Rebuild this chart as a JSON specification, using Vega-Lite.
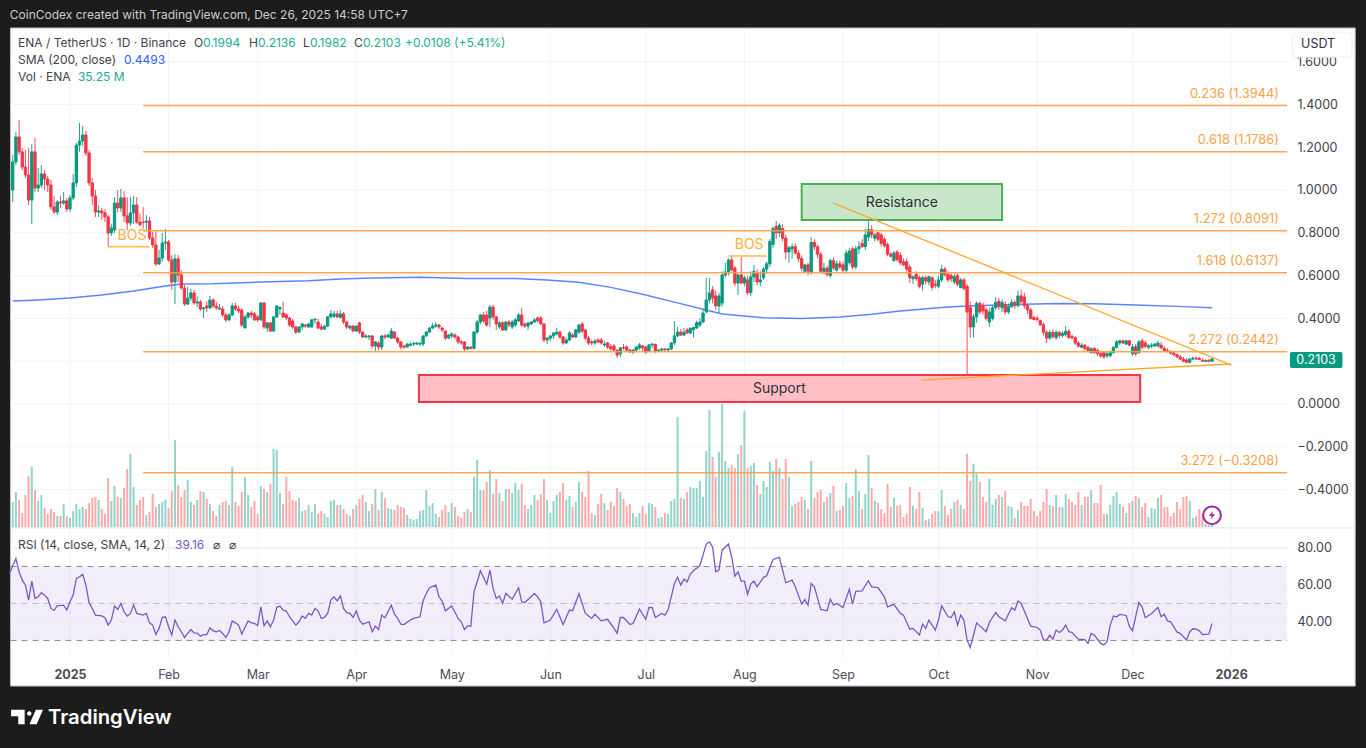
{"$schema":"https://vega.github.io/schema/vega-lite/v6.json","width":1366,"height":748,"padding":0,"autosize":{"type":"fit","contains":"padding"},"background":"#1c1c1c","config":{"font":"Inter","view":{"stroke":null},"axis":{"labelFont":"Inter"}},
"datasets":{"cd":[
{"d":"2024-12-14","o":1.0,"h":1.164,"l":0.944,"c":1.131,"v":300},{"d":"2024-12-15","o":1.131,"h":1.271,"l":1.117,"c":1.248,"v":420},{"d":"2024-12-16","o":1.248,"h":1.327,"l":1.164,"c":1.178,"v":324},{"d":"2024-12-17","o":1.178,"h":1.196,"l":1.093,"c":1.107,"v":168},{"d":"2024-12-18","o":1.107,"h":1.187,"l":1.056,"c":1.07,"v":384},{"d":"2024-12-19","o":1.07,"h":1.196,"l":0.93,"c":0.953,"v":612},{"d":"2024-12-20","o":0.953,"h":1.215,"l":0.841,"c":1.178,"v":720},{"d":"2024-12-21","o":1.178,"h":1.243,"l":0.991,"c":1.009,"v":444},{"d":"2024-12-22","o":1.009,"h":1.103,"l":0.991,"c":1.023,"v":312},{"d":"2024-12-23","o":1.023,"h":1.117,"l":1.009,"c":1.075,"v":384},{"d":"2024-12-24","o":1.075,"h":1.093,"l":1.0,"c":1.051,"v":228},{"d":"2024-12-25","o":1.051,"h":1.065,"l":0.991,"c":1.023,"v":156},{"d":"2024-12-26","o":1.023,"h":1.047,"l":0.907,"c":0.921,"v":216},{"d":"2024-12-27","o":0.921,"h":0.972,"l":0.888,"c":0.897,"v":180},{"d":"2024-12-28","o":0.897,"h":0.953,"l":0.883,"c":0.944,"v":132},{"d":"2024-12-29","o":0.944,"h":0.972,"l":0.916,"c":0.939,"v":132},{"d":"2024-12-30","o":0.939,"h":0.991,"l":0.93,"c":0.949,"v":276},{"d":"2024-12-31","o":0.949,"h":0.963,"l":0.897,"c":0.911,"v":132},
{"d":"2025-01-01","o":0.911,"h":0.977,"l":0.897,"c":0.963,"v":108},{"d":"2025-01-02","o":0.963,"h":1.075,"l":0.953,"c":1.033,"v":192},{"d":"2025-01-03","o":1.033,"h":1.22,"l":1.014,"c":1.21,"v":276},{"d":"2025-01-04","o":1.21,"h":1.313,"l":1.178,"c":1.229,"v":216},{"d":"2025-01-05","o":1.229,"h":1.299,"l":1.206,"c":1.257,"v":240},{"d":"2025-01-06","o":1.257,"h":1.276,"l":1.159,"c":1.173,"v":216},{"d":"2025-01-07","o":1.173,"h":1.187,"l":1.019,"c":1.033,"v":288},{"d":"2025-01-08","o":1.033,"h":1.056,"l":0.93,"c":0.972,"v":348},{"d":"2025-01-09","o":0.972,"h":1.0,"l":0.874,"c":0.897,"v":360},{"d":"2025-01-10","o":0.897,"h":0.93,"l":0.874,"c":0.902,"v":324},{"d":"2025-01-11","o":0.902,"h":0.916,"l":0.86,"c":0.893,"v":216},{"d":"2025-01-12","o":0.893,"h":0.911,"l":0.85,"c":0.874,"v":156},{"d":"2025-01-13","o":0.874,"h":0.883,"l":0.735,"c":0.799,"v":588},{"d":"2025-01-14","o":0.799,"h":0.841,"l":0.785,"c":0.822,"v":312},{"d":"2025-01-15","o":0.813,"h":0.967,"l":0.799,"c":0.939,"v":492},{"d":"2025-01-16","o":0.939,"h":1.0,"l":0.897,"c":0.916,"v":360},{"d":"2025-01-17","o":0.916,"h":1.005,"l":0.897,"c":0.963,"v":348},{"d":"2025-01-18","o":0.963,"h":0.995,"l":0.85,"c":0.879,"v":468},{"d":"2025-01-19","o":0.879,"h":0.967,"l":0.813,"c":0.846,"v":696},{"d":"2025-01-20","o":0.846,"h":0.967,"l":0.832,"c":0.893,"v":876},{"d":"2025-01-21","o":0.893,"h":0.972,"l":0.841,"c":0.93,"v":480},{"d":"2025-01-22","o":0.93,"h":0.967,"l":0.841,"c":0.85,"v":264},{"d":"2025-01-23","o":0.85,"h":0.89,"l":0.83,"c":0.838,"v":324},{"d":"2025-01-24","o":0.85,"h":0.92,"l":0.82,"c":0.848,"v":360},{"d":"2025-01-25","o":0.85,"h":0.883,"l":0.813,"c":0.855,"v":144},{"d":"2025-01-26","o":0.855,"h":0.874,"l":0.766,"c":0.776,"v":180},{"d":"2025-01-27","o":0.776,"h":0.804,"l":0.729,"c":0.743,"v":396},{"d":"2025-01-28","o":0.743,"h":0.813,"l":0.645,"c":0.654,"v":240},{"d":"2025-01-29","o":0.654,"h":0.72,"l":0.65,"c":0.682,"v":276},{"d":"2025-01-30","o":0.682,"h":0.799,"l":0.664,"c":0.752,"v":300},{"d":"2025-01-31","o":0.752,"h":0.818,"l":0.72,"c":0.757,"v":324},
{"d":"2025-02-01","o":0.757,"h":0.766,"l":0.664,"c":0.673,"v":228},{"d":"2025-02-02","o":0.673,"h":0.696,"l":0.533,"c":0.57,"v":432},{"d":"2025-02-03","o":0.57,"h":0.701,"l":0.467,"c":0.678,"v":1044},{"d":"2025-02-04","o":0.678,"h":0.696,"l":0.57,"c":0.603,"v":504},{"d":"2025-02-05","o":0.603,"h":0.626,"l":0.533,"c":0.542,"v":360},{"d":"2025-02-06","o":0.542,"h":0.556,"l":0.458,"c":0.467,"v":444},{"d":"2025-02-07","o":0.467,"h":0.547,"l":0.463,"c":0.495,"v":564},{"d":"2025-02-08","o":0.495,"h":0.537,"l":0.481,"c":0.519,"v":300},{"d":"2025-02-09","o":0.519,"h":0.533,"l":0.463,"c":0.472,"v":264},{"d":"2025-02-10","o":0.472,"h":0.502,"l":0.453,"c":0.477,"v":324},{"d":"2025-02-11","o":0.477,"h":0.486,"l":0.435,"c":0.444,"v":432},{"d":"2025-02-12","o":0.444,"h":0.453,"l":0.402,"c":0.449,"v":420},{"d":"2025-02-13","o":0.458,"h":0.48,"l":0.43,"c":0.449,"v":336},{"d":"2025-02-14","o":0.449,"h":0.505,"l":0.444,"c":0.486,"v":276},{"d":"2025-02-15","o":0.486,"h":0.495,"l":0.449,"c":0.458,"v":192},{"d":"2025-02-16","o":0.458,"h":0.477,"l":0.439,"c":0.449,"v":132},{"d":"2025-02-17","o":0.444,"h":0.467,"l":0.439,"c":0.449,"v":264},{"d":"2025-02-18","o":0.444,"h":0.458,"l":0.407,"c":0.416,"v":300},{"d":"2025-02-19","o":0.416,"h":0.425,"l":0.383,"c":0.393,"v":312},{"d":"2025-02-20","o":0.393,"h":0.425,"l":0.388,"c":0.416,"v":264},{"d":"2025-02-21","o":0.416,"h":0.472,"l":0.411,"c":0.458,"v":720},{"d":"2025-02-22","o":0.458,"h":0.472,"l":0.435,"c":0.444,"v":300},{"d":"2025-02-23","o":0.444,"h":0.458,"l":0.425,"c":0.435,"v":252},{"d":"2025-02-24","o":0.439,"h":0.449,"l":0.36,"c":0.369,"v":420},{"d":"2025-02-25","o":0.355,"h":0.416,"l":0.355,"c":0.407,"v":600},{"d":"2025-02-26","o":0.407,"h":0.43,"l":0.397,"c":0.425,"v":384},{"d":"2025-02-27","o":0.425,"h":0.435,"l":0.402,"c":0.416,"v":240},{"d":"2025-02-28","o":0.421,"h":0.43,"l":0.388,"c":0.393,"v":312},
{"d":"2025-03-01","o":0.407,"h":0.416,"l":0.383,"c":0.393,"v":156},{"d":"2025-03-02","o":0.393,"h":0.477,"l":0.388,"c":0.472,"v":492},{"d":"2025-03-03","o":0.472,"h":0.477,"l":0.35,"c":0.36,"v":456},{"d":"2025-03-04","o":0.355,"h":0.383,"l":0.336,"c":0.379,"v":420},{"d":"2025-03-05","o":0.379,"h":0.383,"l":0.336,"c":0.341,"v":516},{"d":"2025-03-06","o":0.341,"h":0.411,"l":0.336,"c":0.407,"v":936},{"d":"2025-03-07","o":0.407,"h":0.463,"l":0.402,"c":0.458,"v":924},{"d":"2025-03-08","o":0.444,"h":0.458,"l":0.416,"c":0.45,"v":408},{"d":"2025-03-09","o":0.425,"h":0.477,"l":0.402,"c":0.407,"v":276},{"d":"2025-03-10","o":0.416,"h":0.425,"l":0.393,"c":0.402,"v":600},{"d":"2025-03-11","o":0.402,"h":0.407,"l":0.36,"c":0.369,"v":432},{"d":"2025-03-12","o":0.388,"h":0.397,"l":0.35,"c":0.36,"v":324},{"d":"2025-03-13","o":0.36,"h":0.364,"l":0.327,"c":0.336,"v":312},{"d":"2025-03-14","o":0.336,"h":0.36,"l":0.332,"c":0.36,"v":348},{"d":"2025-03-15","o":0.36,"h":0.379,"l":0.346,"c":0.374,"v":192},{"d":"2025-03-16","o":0.369,"h":0.374,"l":0.355,"c":0.364,"v":204},{"d":"2025-03-17","o":0.36,"h":0.379,"l":0.355,"c":0.374,"v":264},{"d":"2025-03-18","o":0.36,"h":0.397,"l":0.355,"c":0.393,"v":180},{"d":"2025-03-19","o":0.393,"h":0.402,"l":0.374,"c":0.396,"v":276},{"d":"2025-03-20","o":0.383,"h":0.397,"l":0.35,"c":0.355,"v":156},{"d":"2025-03-21","o":0.36,"h":0.374,"l":0.346,"c":0.35,"v":192},{"d":"2025-03-22","o":0.35,"h":0.369,"l":0.346,"c":0.364,"v":156},{"d":"2025-03-23","o":0.364,"h":0.411,"l":0.36,"c":0.407,"v":120},{"d":"2025-03-24","o":0.407,"h":0.439,"l":0.402,"c":0.421,"v":312},{"d":"2025-03-25","o":0.41,"h":0.435,"l":0.402,"c":0.421,"v":324},{"d":"2025-03-26","o":0.421,"h":0.435,"l":0.402,"c":0.407,"v":264},{"d":"2025-03-27","o":0.405,"h":0.439,"l":0.4,"c":0.421,"v":264},{"d":"2025-03-28","o":0.421,"h":0.43,"l":0.374,"c":0.383,"v":216},{"d":"2025-03-29","o":0.383,"h":0.388,"l":0.35,"c":0.36,"v":156},{"d":"2025-03-30","o":0.355,"h":0.369,"l":0.346,"c":0.364,"v":132},{"d":"2025-03-31","o":0.364,"h":0.369,"l":0.336,"c":0.341,"v":216},
{"d":"2025-04-01","o":0.341,"h":0.369,"l":0.336,"c":0.364,"v":264},{"d":"2025-04-02","o":0.379,"h":0.383,"l":0.327,"c":0.336,"v":336},{"d":"2025-04-03","o":0.336,"h":0.341,"l":0.308,"c":0.313,"v":384},{"d":"2025-04-04","o":0.313,"h":0.327,"l":0.308,"c":0.318,"v":300},{"d":"2025-04-05","o":0.313,"h":0.322,"l":0.299,"c":0.318,"v":192},{"d":"2025-04-06","o":0.318,"h":0.322,"l":0.262,"c":0.271,"v":276},{"d":"2025-04-07","o":0.271,"h":0.294,"l":0.243,"c":0.29,"v":456},{"d":"2025-04-08","o":0.285,"h":0.294,"l":0.252,"c":0.266,"v":204},{"d":"2025-04-09","o":0.266,"h":0.322,"l":0.252,"c":0.318,"v":420},{"d":"2025-04-10","o":0.318,"h":0.327,"l":0.304,"c":0.313,"v":348},{"d":"2025-04-11","o":0.313,"h":0.327,"l":0.308,"c":0.322,"v":228},{"d":"2025-04-12","o":0.308,"h":0.355,"l":0.304,"c":0.341,"v":216},{"d":"2025-04-13","o":0.336,"h":0.341,"l":0.304,"c":0.308,"v":204},{"d":"2025-04-14","o":0.308,"h":0.313,"l":0.28,"c":0.29,"v":264},{"d":"2025-04-15","o":0.29,"h":0.294,"l":0.257,"c":0.266,"v":240},{"d":"2025-04-16","o":0.271,"h":0.276,"l":0.257,"c":0.266,"v":228},{"d":"2025-04-17","o":0.266,"h":0.285,"l":0.266,"c":0.28,"v":144},{"d":"2025-04-18","o":0.274,"h":0.288,"l":0.27,"c":0.28,"v":96},{"d":"2025-04-19","o":0.28,"h":0.29,"l":0.271,"c":0.283,"v":84},{"d":"2025-04-20","o":0.28,"h":0.29,"l":0.276,"c":0.285,"v":96},{"d":"2025-04-21","o":0.28,"h":0.29,"l":0.271,"c":0.283,"v":192},{"d":"2025-04-22","o":0.28,"h":0.322,"l":0.271,"c":0.318,"v":204},{"d":"2025-04-23","o":0.318,"h":0.341,"l":0.313,"c":0.336,"v":444},{"d":"2025-04-24","o":0.336,"h":0.36,"l":0.332,"c":0.355,"v":252},{"d":"2025-04-25","o":0.355,"h":0.379,"l":0.35,"c":0.364,"v":288},{"d":"2025-04-26","o":0.364,"h":0.383,"l":0.355,"c":0.369,"v":156},{"d":"2025-04-27","o":0.369,"h":0.374,"l":0.35,"c":0.36,"v":120},{"d":"2025-04-28","o":0.355,"h":0.36,"l":0.336,"c":0.346,"v":204},{"d":"2025-04-29","o":0.341,"h":0.346,"l":0.299,"c":0.308,"v":264},{"d":"2025-04-30","o":0.308,"h":0.327,"l":0.304,"c":0.322,"v":180},
{"d":"2025-05-01","o":0.318,"h":0.336,"l":0.308,"c":0.327,"v":288},{"d":"2025-05-02","o":0.322,"h":0.332,"l":0.304,"c":0.313,"v":240},{"d":"2025-05-03","o":0.313,"h":0.318,"l":0.28,"c":0.29,"v":132},{"d":"2025-05-04","o":0.29,"h":0.299,"l":0.276,"c":0.285,"v":108},{"d":"2025-05-05","o":0.29,"h":0.294,"l":0.248,"c":0.257,"v":180},{"d":"2025-05-06","o":0.257,"h":0.271,"l":0.252,"c":0.266,"v":216},{"d":"2025-05-07","o":0.266,"h":0.27,"l":0.255,"c":0.26,"v":180},{"d":"2025-05-08","o":0.26,"h":0.341,"l":0.255,"c":0.336,"v":600},{"d":"2025-05-09","o":0.336,"h":0.393,"l":0.327,"c":0.383,"v":804},{"d":"2025-05-10","o":0.383,"h":0.421,"l":0.374,"c":0.416,"v":444},{"d":"2025-05-11","o":0.416,"h":0.43,"l":0.379,"c":0.388,"v":444},{"d":"2025-05-12","o":0.416,"h":0.435,"l":0.36,"c":0.369,"v":540},{"d":"2025-05-13","o":0.402,"h":0.463,"l":0.36,"c":0.453,"v":684},{"d":"2025-05-14","o":0.453,"h":0.463,"l":0.393,"c":0.407,"v":396},{"d":"2025-05-15","o":0.407,"h":0.411,"l":0.346,"c":0.374,"v":576},{"d":"2025-05-16","o":0.36,"h":0.388,"l":0.35,"c":0.379,"v":408},{"d":"2025-05-17","o":0.379,"h":0.388,"l":0.341,"c":0.346,"v":312},{"d":"2025-05-18","o":0.346,"h":0.388,"l":0.341,"c":0.383,"v":456},{"d":"2025-05-19","o":0.383,"h":0.393,"l":0.36,"c":0.37,"v":456},{"d":"2025-05-20","o":0.36,"h":0.393,"l":0.35,"c":0.383,"v":408},{"d":"2025-05-21","o":0.369,"h":0.402,"l":0.36,"c":0.393,"v":528},{"d":"2025-05-22","o":0.388,"h":0.425,"l":0.383,"c":0.416,"v":444},{"d":"2025-05-23","o":0.416,"h":0.449,"l":0.36,"c":0.369,"v":516},{"d":"2025-05-24","o":0.374,"h":0.379,"l":0.355,"c":0.364,"v":264},{"d":"2025-05-25","o":0.364,"h":0.383,"l":0.346,"c":0.379,"v":216},{"d":"2025-05-26","o":0.374,"h":0.388,"l":0.369,"c":0.383,"v":264},{"d":"2025-05-27","o":0.383,"h":0.402,"l":0.379,"c":0.393,"v":384},{"d":"2025-05-28","o":0.402,"h":0.41,"l":0.38,"c":0.39,"v":324},{"d":"2025-05-29","o":0.402,"h":0.411,"l":0.369,"c":0.374,"v":396},{"d":"2025-05-30","o":0.374,"h":0.379,"l":0.29,"c":0.299,"v":576},{"d":"2025-05-31","o":0.299,"h":0.313,"l":0.28,"c":0.308,"v":324},
{"d":"2025-06-01","o":0.308,"h":0.322,"l":0.294,"c":0.318,"v":168},{"d":"2025-06-02","o":0.318,"h":0.336,"l":0.304,"c":0.332,"v":312},{"d":"2025-06-03","o":0.327,"h":0.355,"l":0.322,"c":0.336,"v":384},{"d":"2025-06-04","o":0.336,"h":0.341,"l":0.304,"c":0.313,"v":420},{"d":"2025-06-05","o":0.313,"h":0.318,"l":0.276,"c":0.285,"v":528},{"d":"2025-06-06","o":0.285,"h":0.308,"l":0.28,"c":0.299,"v":324},{"d":"2025-06-07","o":0.299,"h":0.341,"l":0.294,"c":0.332,"v":372},{"d":"2025-06-08","o":0.322,"h":0.332,"l":0.308,"c":0.313,"v":240},{"d":"2025-06-09","o":0.313,"h":0.35,"l":0.308,"c":0.346,"v":300},{"d":"2025-06-10","o":0.336,"h":0.374,"l":0.327,"c":0.369,"v":540},{"d":"2025-06-11","o":0.374,"h":0.383,"l":0.332,"c":0.341,"v":420},{"d":"2025-06-12","o":0.346,"h":0.35,"l":0.299,"c":0.308,"v":360},{"d":"2025-06-13","o":0.308,"h":0.318,"l":0.276,"c":0.285,"v":672},{"d":"2025-06-14","o":0.29,"h":0.3,"l":0.275,"c":0.285,"v":168},{"d":"2025-06-15","o":0.285,"h":0.304,"l":0.276,"c":0.294,"v":144},{"d":"2025-06-16","o":0.299,"h":0.308,"l":0.285,"c":0.29,"v":276},{"d":"2025-06-17","o":0.299,"h":0.308,"l":0.276,"c":0.285,"v":396},{"d":"2025-06-18","o":0.276,"h":0.294,"l":0.266,"c":0.28,"v":288},{"d":"2025-06-19","o":0.285,"h":0.29,"l":0.257,"c":0.266,"v":204},{"d":"2025-06-20","o":0.268,"h":0.28,"l":0.25,"c":0.258,"v":300},{"d":"2025-06-21","o":0.271,"h":0.28,"l":0.243,"c":0.252,"v":252},{"d":"2025-06-22","o":0.25,"h":0.257,"l":0.215,"c":0.229,"v":468},{"d":"2025-06-23","o":0.234,"h":0.266,"l":0.22,"c":0.262,"v":420},{"d":"2025-06-24","o":0.266,"h":0.28,"l":0.252,"c":0.262,"v":336},{"d":"2025-06-25","o":0.266,"h":0.276,"l":0.243,"c":0.252,"v":252},{"d":"2025-06-26","o":0.252,"h":0.257,"l":0.238,"c":0.243,"v":276},{"d":"2025-06-27","o":0.243,"h":0.257,"l":0.234,"c":0.252,"v":168},{"d":"2025-06-28","o":0.252,"h":0.271,"l":0.243,"c":0.266,"v":120},{"d":"2025-06-29","o":0.262,"h":0.285,"l":0.252,"c":0.276,"v":168},{"d":"2025-06-30","o":0.271,"h":0.276,"l":0.248,"c":0.262,"v":252},
{"d":"2025-07-01","o":0.266,"h":0.271,"l":0.234,"c":0.243,"v":156},{"d":"2025-07-02","o":0.248,"h":0.28,"l":0.243,"c":0.276,"v":288},{"d":"2025-07-03","o":0.276,"h":0.285,"l":0.262,"c":0.28,"v":276},{"d":"2025-07-04","o":0.28,"h":0.28,"l":0.238,"c":0.248,"v":240},{"d":"2025-07-05","o":0.248,"h":0.257,"l":0.243,"c":0.252,"v":108},{"d":"2025-07-06","o":0.252,"h":0.262,"l":0.243,"c":0.257,"v":120},{"d":"2025-07-07","o":0.257,"h":0.262,"l":0.248,"c":0.253,"v":168},{"d":"2025-07-08","o":0.252,"h":0.262,"l":0.248,"c":0.257,"v":156},{"d":"2025-07-09","o":0.257,"h":0.29,"l":0.252,"c":0.285,"v":312},{"d":"2025-07-10","o":0.285,"h":0.388,"l":0.276,"c":0.318,"v":336},{"d":"2025-07-11","o":0.318,"h":0.36,"l":0.313,"c":0.336,"v":1320},{"d":"2025-07-12","o":0.336,"h":0.35,"l":0.318,"c":0.322,"v":348},{"d":"2025-07-13","o":0.322,"h":0.355,"l":0.318,"c":0.336,"v":336},{"d":"2025-07-14","o":0.346,"h":0.355,"l":0.327,"c":0.332,"v":420},{"d":"2025-07-15","o":0.332,"h":0.355,"l":0.327,"c":0.355,"v":480},{"d":"2025-07-16","o":0.346,"h":0.358,"l":0.31,"c":0.358,"v":468},{"d":"2025-07-17","o":0.355,"h":0.39,"l":0.35,"c":0.379,"v":468},{"d":"2025-07-18","o":0.369,"h":0.4,"l":0.36,"c":0.383,"v":552},{"d":"2025-07-19","o":0.383,"h":0.44,"l":0.38,"c":0.425,"v":360},{"d":"2025-07-20","o":0.43,"h":0.589,"l":0.425,"c":0.486,"v":912},{"d":"2025-07-21","o":0.486,"h":0.589,"l":0.47,"c":0.519,"v":1404},{"d":"2025-07-22","o":0.533,"h":0.55,"l":0.47,"c":0.495,"v":840},{"d":"2025-07-23","o":0.505,"h":0.53,"l":0.44,"c":0.458,"v":600},{"d":"2025-07-24","o":0.458,"h":0.52,"l":0.425,"c":0.505,"v":900},{"d":"2025-07-25","o":0.472,"h":0.62,"l":0.455,"c":0.603,"v":1476},{"d":"2025-07-26","o":0.603,"h":0.66,"l":0.59,"c":0.617,"v":792},{"d":"2025-07-27","o":0.617,"h":0.68,"l":0.6,"c":0.673,"v":708},{"d":"2025-07-28","o":0.673,"h":0.696,"l":0.62,"c":0.626,"v":744},{"d":"2025-07-29","o":0.635,"h":0.645,"l":0.55,"c":0.565,"v":708},{"d":"2025-07-30","o":0.565,"h":0.61,"l":0.51,"c":0.603,"v":876},{"d":"2025-07-31","o":0.603,"h":0.686,"l":0.56,"c":0.565,"v":984},
{"d":"2025-08-01","o":0.565,"h":0.6,"l":0.55,"c":0.59,"v":1392},{"d":"2025-08-02","o":0.58,"h":0.6,"l":0.51,"c":0.52,"v":708},{"d":"2025-08-03","o":0.52,"h":0.62,"l":0.505,"c":0.594,"v":732},{"d":"2025-08-04","o":0.594,"h":0.65,"l":0.57,"c":0.62,"v":768},{"d":"2025-08-05","o":0.61,"h":0.63,"l":0.555,"c":0.57,"v":504},{"d":"2025-08-06","o":0.57,"h":0.62,"l":0.55,"c":0.58,"v":396},{"d":"2025-08-07","o":0.59,"h":0.64,"l":0.58,"c":0.63,"v":552},{"d":"2025-08-08","o":0.63,"h":0.665,"l":0.61,"c":0.655,"v":480},{"d":"2025-08-09","o":0.655,"h":0.77,"l":0.64,"c":0.76,"v":780},{"d":"2025-08-10","o":0.745,"h":0.83,"l":0.73,"c":0.82,"v":672},{"d":"2025-08-11","o":0.83,"h":0.855,"l":0.77,"c":0.8,"v":816},{"d":"2025-08-12","o":0.8,"h":0.845,"l":0.78,"c":0.835,"v":708},{"d":"2025-08-13","o":0.82,"h":0.84,"l":0.76,"c":0.775,"v":576},{"d":"2025-08-14","o":0.775,"h":0.79,"l":0.675,"c":0.71,"v":816},{"d":"2025-08-15","o":0.71,"h":0.74,"l":0.66,"c":0.73,"v":600},{"d":"2025-08-16","o":0.725,"h":0.75,"l":0.68,"c":0.735,"v":252},{"d":"2025-08-17","o":0.735,"h":0.75,"l":0.7,"c":0.705,"v":276},{"d":"2025-08-18","o":0.705,"h":0.72,"l":0.665,"c":0.68,"v":300},{"d":"2025-08-19","o":0.68,"h":0.695,"l":0.62,"c":0.635,"v":360},{"d":"2025-08-20","o":0.62,"h":0.655,"l":0.61,"c":0.65,"v":324},{"d":"2025-08-21","o":0.65,"h":0.66,"l":0.6,"c":0.62,"v":216},{"d":"2025-08-22","o":0.615,"h":0.78,"l":0.605,"c":0.755,"v":792},{"d":"2025-08-23","o":0.755,"h":0.77,"l":0.72,"c":0.735,"v":348},{"d":"2025-08-24","o":0.735,"h":0.745,"l":0.68,"c":0.7,"v":420},{"d":"2025-08-25","o":0.7,"h":0.71,"l":0.61,"c":0.62,"v":444},{"d":"2025-08-26","o":0.62,"h":0.66,"l":0.605,"c":0.635,"v":300},{"d":"2025-08-27","o":0.635,"h":0.645,"l":0.595,"c":0.605,"v":360},{"d":"2025-08-28","o":0.6,"h":0.68,"l":0.59,"c":0.67,"v":408},{"d":"2025-08-29","o":0.67,"h":0.685,"l":0.625,"c":0.635,"v":492},{"d":"2025-08-30","o":0.625,"h":0.67,"l":0.62,"c":0.655,"v":192},{"d":"2025-08-31","o":0.655,"h":0.67,"l":0.63,"c":0.64,"v":204},
{"d":"2025-09-01","o":0.65,"h":0.665,"l":0.615,"c":0.625,"v":252},{"d":"2025-09-02","o":0.625,"h":0.72,"l":0.61,"c":0.705,"v":528},{"d":"2025-09-03","o":0.66,"h":0.73,"l":0.65,"c":0.715,"v":348},{"d":"2025-09-04","o":0.725,"h":0.735,"l":0.63,"c":0.64,"v":372},{"d":"2025-09-05","o":0.64,"h":0.74,"l":0.63,"c":0.725,"v":696},{"d":"2025-09-06","o":0.725,"h":0.76,"l":0.7,"c":0.735,"v":432},{"d":"2025-09-07","o":0.75,"h":0.77,"l":0.73,"c":0.735,"v":216},{"d":"2025-09-08","o":0.735,"h":0.82,"l":0.72,"c":0.79,"v":396},{"d":"2025-09-09","o":0.78,"h":0.869,"l":0.76,"c":0.815,"v":864},{"d":"2025-09-10","o":0.815,"h":0.835,"l":0.775,"c":0.79,"v":468},{"d":"2025-09-11","o":0.775,"h":0.8,"l":0.76,"c":0.79,"v":312},{"d":"2025-09-12","o":0.8,"h":0.8,"l":0.76,"c":0.77,"v":288},{"d":"2025-09-13","o":0.79,"h":0.8,"l":0.735,"c":0.75,"v":216},{"d":"2025-09-14","o":0.77,"h":0.78,"l":0.73,"c":0.74,"v":168},{"d":"2025-09-15","o":0.745,"h":0.755,"l":0.69,"c":0.7,"v":516},{"d":"2025-09-16","o":0.7,"h":0.71,"l":0.685,"c":0.69,"v":240},{"d":"2025-09-17","o":0.67,"h":0.715,"l":0.665,"c":0.705,"v":348},{"d":"2025-09-18","o":0.71,"h":0.72,"l":0.665,"c":0.675,"v":252},{"d":"2025-09-19","o":0.695,"h":0.71,"l":0.65,"c":0.66,"v":264},{"d":"2025-09-20","o":0.665,"h":0.68,"l":0.645,"c":0.65,"v":120},{"d":"2025-09-21","o":0.665,"h":0.68,"l":0.62,"c":0.63,"v":156},{"d":"2025-09-22","o":0.64,"h":0.65,"l":0.565,"c":0.59,"v":480},{"d":"2025-09-23","o":0.585,"h":0.6,"l":0.56,"c":0.595,"v":252},{"d":"2025-09-24","o":0.605,"h":0.62,"l":0.575,"c":0.585,"v":216},{"d":"2025-09-25","o":0.59,"h":0.6,"l":0.54,"c":0.55,"v":420},{"d":"2025-09-26","o":0.56,"h":0.6,"l":0.53,"c":0.59,"v":228},{"d":"2025-09-27","o":0.59,"h":0.6,"l":0.56,"c":0.575,"v":84},{"d":"2025-09-28","o":0.57,"h":0.6,"l":0.555,"c":0.595,"v":96},{"d":"2025-09-29","o":0.59,"h":0.595,"l":0.53,"c":0.545,"v":156},{"d":"2025-09-30","o":0.56,"h":0.58,"l":0.54,"c":0.555,"v":192},
{"d":"2025-10-01","o":0.55,"h":0.6,"l":0.54,"c":0.58,"v":192},{"d":"2025-10-02","o":0.58,"h":0.65,"l":0.57,"c":0.63,"v":444},{"d":"2025-10-03","o":0.63,"h":0.64,"l":0.595,"c":0.605,"v":252},{"d":"2025-10-04","o":0.605,"h":0.62,"l":0.57,"c":0.58,"v":144},{"d":"2025-10-05","o":0.6,"h":0.61,"l":0.57,"c":0.585,"v":216},{"d":"2025-10-06","o":0.57,"h":0.61,"l":0.56,"c":0.595,"v":300},{"d":"2025-10-07","o":0.6,"h":0.61,"l":0.55,"c":0.56,"v":324},{"d":"2025-10-08","o":0.545,"h":0.59,"l":0.54,"c":0.58,"v":264},{"d":"2025-10-09","o":0.58,"h":0.59,"l":0.53,"c":0.54,"v":216},{"d":"2025-10-10","o":0.55,"h":0.56,"l":0.135,"c":0.43,"v":876},{"d":"2025-10-11","o":0.45,"h":0.48,"l":0.31,"c":0.36,"v":552},{"d":"2025-10-12","o":0.36,"h":0.42,"l":0.31,"c":0.407,"v":756},{"d":"2025-10-13","o":0.407,"h":0.48,"l":0.38,"c":0.47,"v":636},{"d":"2025-10-14","o":0.47,"h":0.48,"l":0.42,"c":0.43,"v":540},{"d":"2025-10-15","o":0.46,"h":0.475,"l":0.42,"c":0.435,"v":360},{"d":"2025-10-16","o":0.44,"h":0.45,"l":0.39,"c":0.4,"v":300},{"d":"2025-10-17","o":0.383,"h":0.45,"l":0.36,"c":0.43,"v":576},{"d":"2025-10-18","o":0.4,"h":0.46,"l":0.39,"c":0.45,"v":264},{"d":"2025-10-19","o":0.45,"h":0.5,"l":0.44,"c":0.475,"v":336},{"d":"2025-10-20","o":0.48,"h":0.495,"l":0.44,"c":0.455,"v":384},{"d":"2025-10-21","o":0.45,"h":0.49,"l":0.43,"c":0.475,"v":360},{"d":"2025-10-22","o":0.465,"h":0.48,"l":0.42,"c":0.43,"v":432},{"d":"2025-10-23","o":0.43,"h":0.47,"l":0.42,"c":0.455,"v":252},{"d":"2025-10-24","o":0.455,"h":0.49,"l":0.45,"c":0.475,"v":240},{"d":"2025-10-25","o":0.475,"h":0.485,"l":0.445,"c":0.46,"v":108},{"d":"2025-10-26","o":0.46,"h":0.53,"l":0.45,"c":0.505,"v":204},{"d":"2025-10-27","o":0.505,"h":0.535,"l":0.47,"c":0.48,"v":300},{"d":"2025-10-28","o":0.5,"h":0.52,"l":0.445,"c":0.46,"v":252},{"d":"2025-10-29","o":0.46,"h":0.47,"l":0.42,"c":0.44,"v":252},{"d":"2025-10-30","o":0.44,"h":0.45,"l":0.395,"c":0.4,"v":336},{"d":"2025-10-31","o":0.405,"h":0.41,"l":0.39,"c":0.395,"v":192},
{"d":"2025-11-01","o":0.4,"h":0.41,"l":0.385,"c":0.395,"v":132},{"d":"2025-11-02","o":0.39,"h":0.395,"l":0.365,"c":0.37,"v":192},{"d":"2025-11-03","o":0.37,"h":0.38,"l":0.32,"c":0.335,"v":300},{"d":"2025-11-04","o":0.335,"h":0.345,"l":0.285,"c":0.308,"v":456},{"d":"2025-11-05","o":0.308,"h":0.345,"l":0.3,"c":0.335,"v":264},{"d":"2025-11-06","o":0.335,"h":0.35,"l":0.305,"c":0.315,"v":252},{"d":"2025-11-07","o":0.31,"h":0.345,"l":0.3,"c":0.335,"v":384},{"d":"2025-11-08","o":0.335,"h":0.34,"l":0.305,"c":0.32,"v":240},{"d":"2025-11-09","o":0.32,"h":0.34,"l":0.31,"c":0.33,"v":240},{"d":"2025-11-10","o":0.325,"h":0.365,"l":0.315,"c":0.34,"v":396},{"d":"2025-11-11","o":0.34,"h":0.35,"l":0.305,"c":0.31,"v":336},{"d":"2025-11-12","o":0.315,"h":0.325,"l":0.3,"c":0.31,"v":300},{"d":"2025-11-13","o":0.31,"h":0.315,"l":0.275,"c":0.285,"v":264},{"d":"2025-11-14","o":0.285,"h":0.295,"l":0.265,"c":0.27,"v":420},{"d":"2025-11-15","o":0.265,"h":0.285,"l":0.26,"c":0.275,"v":264},{"d":"2025-11-16","o":0.275,"h":0.28,"l":0.25,"c":0.26,"v":360},{"d":"2025-11-17","o":0.265,"h":0.27,"l":0.245,"c":0.25,"v":360},{"d":"2025-11-18","o":0.24,"h":0.265,"l":0.235,"c":0.258,"v":444},{"d":"2025-11-19","o":0.26,"h":0.265,"l":0.235,"c":0.24,"v":288},{"d":"2025-11-20","o":0.25,"h":0.26,"l":0.225,"c":0.235,"v":288},{"d":"2025-11-21","o":0.235,"h":0.245,"l":0.215,"c":0.225,"v":504},{"d":"2025-11-22","o":0.24,"h":0.245,"l":0.21,"c":0.22,"v":156},{"d":"2025-11-23","o":0.225,"h":0.245,"l":0.215,"c":0.235,"v":156},{"d":"2025-11-24","o":0.225,"h":0.25,"l":0.22,"c":0.24,"v":264},{"d":"2025-11-25","o":0.24,"h":0.27,"l":0.235,"c":0.265,"v":372},{"d":"2025-11-26","o":0.265,"h":0.3,"l":0.26,"c":0.29,"v":420},{"d":"2025-11-27","o":0.285,"h":0.3,"l":0.275,"c":0.295,"v":276},{"d":"2025-11-28","o":0.295,"h":0.3,"l":0.28,"c":0.285,"v":240},{"d":"2025-11-29","o":0.28,"h":0.3,"l":0.275,"c":0.295,"v":168},{"d":"2025-11-30","o":0.295,"h":0.3,"l":0.27,"c":0.275,"v":288},
{"d":"2025-12-01","o":0.234,"h":0.28,"l":0.225,"c":0.266,"v":312},{"d":"2025-12-02","o":0.268,"h":0.28,"l":0.225,"c":0.235,"v":372},{"d":"2025-12-03","o":0.24,"h":0.3,"l":0.235,"c":0.29,"v":348},{"d":"2025-12-04","o":0.295,"h":0.305,"l":0.255,"c":0.265,"v":240},{"d":"2025-12-05","o":0.285,"h":0.295,"l":0.26,"c":0.27,"v":288},{"d":"2025-12-06","o":0.265,"h":0.28,"l":0.255,"c":0.272,"v":120},{"d":"2025-12-07","o":0.27,"h":0.285,"l":0.26,"c":0.275,"v":228},{"d":"2025-12-08","o":0.272,"h":0.285,"l":0.265,"c":0.28,"v":216},{"d":"2025-12-09","o":0.27,"h":0.295,"l":0.265,"c":0.285,"v":348},{"d":"2025-12-10","o":0.275,"h":0.29,"l":0.258,"c":0.262,"v":384},{"d":"2025-12-11","o":0.26,"h":0.27,"l":0.245,"c":0.25,"v":240},{"d":"2025-12-12","o":0.25,"h":0.26,"l":0.24,"c":0.245,"v":240},{"d":"2025-12-13","o":0.245,"h":0.25,"l":0.23,"c":0.238,"v":132},{"d":"2025-12-14","o":0.238,"h":0.245,"l":0.225,"c":0.23,"v":168},{"d":"2025-12-15","o":0.23,"h":0.235,"l":0.215,"c":0.22,"v":300},{"d":"2025-12-16","o":0.22,"h":0.228,"l":0.205,"c":0.21,"v":216},{"d":"2025-12-17","o":0.21,"h":0.22,"l":0.195,"c":0.2,"v":360},{"d":"2025-12-18","o":0.205,"h":0.215,"l":0.19,"c":0.195,"v":372},{"d":"2025-12-19","o":0.195,"h":0.215,"l":0.19,"c":0.21,"v":312},{"d":"2025-12-20","o":0.21,"h":0.222,"l":0.205,"c":0.214,"v":108},{"d":"2025-12-21","o":0.214,"h":0.222,"l":0.208,"c":0.21,"v":132},{"d":"2025-12-22","o":0.213,"h":0.22,"l":0.205,"c":0.208,"v":216},{"d":"2025-12-23","o":0.205,"h":0.212,"l":0.198,"c":0.2,"v":168},{"d":"2025-12-24","o":0.2,"h":0.208,"l":0.195,"c":0.204,"v":36},{"d":"2025-12-25","o":0.204,"h":0.21,"l":0.196,"c":0.1994,"v":24},{"d":"2025-12-26","o":0.1994,"h":0.2136,"l":0.1982,"c":0.2103,"v":35.25}
],
"rs":[{"d":"2024-12-13","r":66.2},{"d":"2024-12-15","r":74.3},{"d":"2024-12-16","r":67.1},{"d":"2024-12-17","r":62.6},{"d":"2024-12-18","r":59.9},{"d":"2024-12-19","r":51.8},{"d":"2024-12-20","r":62.1},{"d":"2024-12-21","r":52.7},{"d":"2024-12-22","r":53.6},{"d":"2024-12-23","r":55.8},{"d":"2024-12-24","r":54.5},{"d":"2024-12-25","r":52.7},{"d":"2024-12-26","r":47.3},{"d":"2024-12-27","r":46.2},{"d":"2024-12-28","r":48.7},{"d":"2024-12-30","r":49.1},{"d":"2024-12-31","r":46.4},{"d":"2025-01-01","r":50.9},{"d":"2025-01-02","r":54.5},{"d":"2025-01-03","r":63.5},{"d":"2025-01-04","r":64.4},{"d":"2025-01-05","r":65.7},{"d":"2025-01-06","r":59.9},{"d":"2025-01-07","r":50.4},{"d":"2025-01-08","r":47.3},{"d":"2025-01-09","r":43.7},{"d":"2025-01-11","r":43.3},{"d":"2025-01-12","r":42.3},{"d":"2025-01-13","r":38.3},{"d":"2025-01-14","r":41},{"d":"2025-01-15","r":48.6},{"d":"2025-01-16","r":46.8},{"d":"2025-01-17","r":50},{"d":"2025-01-18","r":45.5},{"d":"2025-01-19","r":43.2},{"d":"2025-01-20","r":44.6},{"d":"2025-01-21","r":49.1},{"d":"2025-01-22","r":44.6},{"d":"2025-01-24","r":43.7},{"d":"2025-01-25","r":44.6},{"d":"2025-01-26","r":39.5},{"d":"2025-01-27","r":38.3},{"d":"2025-01-28","r":33.2},{"d":"2025-01-29","r":36.5},{"d":"2025-01-30","r":42.4},{"d":"2025-01-31","r":42.8},{"d":"2025-02-01","r":37.4},{"d":"2025-02-02","r":32.9},{"d":"2025-02-03","r":41},{"d":"2025-02-04","r":37.4},{"d":"2025-02-05","r":34.7},{"d":"2025-02-06","r":31.6},{"d":"2025-02-07","r":33.8},{"d":"2025-02-08","r":35.9},{"d":"2025-02-09","r":34.1},{"d":"2025-02-10","r":34},{"d":"2025-02-11","r":32.3},{"d":"2025-02-12","r":33.1},{"d":"2025-02-13","r":33.2},{"d":"2025-02-14","r":36.8},{"d":"2025-02-15","r":35.2},{"d":"2025-02-16","r":34.7},{"d":"2025-02-17","r":35.4},{"d":"2025-02-18","r":33.8},{"d":"2025-02-19","r":31.6},{"d":"2025-02-20","r":34.7},{"d":"2025-02-21","r":40.5},{"d":"2025-02-22","r":39.5},{"d":"2025-02-23","r":38.3},{"d":"2025-02-24","r":33.4},{"d":"2025-02-25","r":37},{"d":"2025-02-26","r":40.5},{"d":"2025-02-27","r":39.5},{"d":"2025-02-28","r":39.2},{"d":"2025-03-01","r":38.1},{"d":"2025-03-02","r":48.2},{"d":"2025-03-03","r":37.9},{"d":"2025-03-04","r":40.6},{"d":"2025-03-05","r":37.4},{"d":"2025-03-06","r":41},{"d":"2025-03-07","r":47.8},{"d":"2025-03-08","r":48.6},{"d":"2025-03-09","r":46.4},{"d":"2025-03-10","r":45.9},{"d":"2025-03-11","r":42.8},{"d":"2025-03-13","r":38.3},{"d":"2025-03-14","r":40.1},{"d":"2025-03-15","r":43.2},{"d":"2025-03-16","r":41.9},{"d":"2025-03-17","r":44.6},{"d":"2025-03-18","r":43.7},{"d":"2025-03-19","r":47.3},{"d":"2025-03-20","r":46},{"d":"2025-03-21","r":41.9},{"d":"2025-03-22","r":42.4},{"d":"2025-03-23","r":44.6},{"d":"2025-03-24","r":51.8},{"d":"2025-03-25","r":53.6},{"d":"2025-03-26","r":51.4},{"d":"2025-03-27","r":54.1},{"d":"2025-03-28","r":47.3},{"d":"2025-03-29","r":45},{"d":"2025-03-30","r":44.6},{"d":"2025-03-31","r":42.4},{"d":"2025-04-01","r":46},{"d":"2025-04-02","r":41},{"d":"2025-04-03","r":38.8},{"d":"2025-04-05","r":40.1},{"d":"2025-04-06","r":34.7},{"d":"2025-04-07","r":37.7},{"d":"2025-04-08","r":35.9},{"d":"2025-04-09","r":43.7},{"d":"2025-04-10","r":42.3},{"d":"2025-04-12","r":49.1},{"d":"2025-04-13","r":44.2},{"d":"2025-04-14","r":41.9},{"d":"2025-04-15","r":38.8},{"d":"2025-04-16","r":38.6},{"d":"2025-04-18","r":41},{"d":"2025-04-19","r":41.9},{"d":"2025-04-21","r":42.8},{"d":"2025-04-22","r":51.3},{"d":"2025-04-23","r":55.4},{"d":"2025-04-24","r":58.5},{"d":"2025-04-26","r":59.9},{"d":"2025-04-27","r":53.6},{"d":"2025-04-28","r":51.3},{"d":"2025-04-29","r":46},{"d":"2025-05-01","r":48.6},{"d":"2025-05-03","r":41.9},{"d":"2025-05-04","r":40.1},{"d":"2025-05-05","r":35.9},{"d":"2025-05-06","r":37.9},{"d":"2025-05-07","r":37.7},{"d":"2025-05-08","r":56.3},{"d":"2025-05-09","r":61.7},{"d":"2025-05-10","r":67.7},{"d":"2025-05-12","r":60.5},{"d":"2025-05-13","r":68},{"d":"2025-05-14","r":58.1},{"d":"2025-05-15","r":52.7},{"d":"2025-05-16","r":54},{"d":"2025-05-17","r":50},{"d":"2025-05-18","r":55.4},{"d":"2025-05-20","r":52.3},{"d":"2025-05-22","r":58.5},{"d":"2025-05-23","r":50.9},{"d":"2025-05-24","r":50.5},{"d":"2025-05-27","r":55.4},{"d":"2025-05-28","r":53.6},{"d":"2025-05-29","r":50.9},{"d":"2025-05-30","r":39.5},{"d":"2025-06-01","r":41},{"d":"2025-06-03","r":46.8},{"d":"2025-06-05","r":38.6},{"d":"2025-06-07","r":46.4},{"d":"2025-06-08","r":46},{"d":"2025-06-10","r":55.2},{"d":"2025-06-12","r":44.6},{"d":"2025-06-14","r":41.9},{"d":"2025-06-15","r":44.1},{"d":"2025-06-17","r":40.6},{"d":"2025-06-19","r":41.4},{"d":"2025-06-21","r":36.5},{"d":"2025-06-22","r":33.8},{"d":"2025-06-23","r":42.4},{"d":"2025-06-24","r":42.4},{"d":"2025-06-26","r":38.6},{"d":"2025-06-27","r":39.2},{"d":"2025-06-29","r":46.9},{"d":"2025-07-01","r":41.4},{"d":"2025-07-02","r":47.8},{"d":"2025-07-03","r":47.8},{"d":"2025-07-04","r":42.4},{"d":"2025-07-06","r":44.6},{"d":"2025-07-07","r":43.7},{"d":"2025-07-08","r":46.4},{"d":"2025-07-10","r":60.8},{"d":"2025-07-11","r":64.1},{"d":"2025-07-12","r":59.9},{"d":"2025-07-13","r":63.2},{"d":"2025-07-14","r":61.7},{"d":"2025-07-15","r":65.9},{"d":"2025-07-16","r":67.7},{"d":"2025-07-18","r":70.4},{"d":"2025-07-20","r":82.1},{"d":"2025-07-21","r":83.3},{"d":"2025-07-22","r":80.6},{"d":"2025-07-23","r":67.1},{"d":"2025-07-24","r":68},{"d":"2025-07-25","r":78.8},{"d":"2025-07-27","r":82.1},{"d":"2025-07-28","r":75.2},{"d":"2025-07-29","r":64.8},{"d":"2025-07-30","r":67.1},{"d":"2025-07-31","r":62.1},{"d":"2025-08-01","r":62.1},{"d":"2025-08-02","r":55},{"d":"2025-08-03","r":60.5},{"d":"2025-08-04","r":62.1},{"d":"2025-08-05","r":59},{"d":"2025-08-07","r":64.1},{"d":"2025-08-08","r":65},{"d":"2025-08-10","r":73.8},{"d":"2025-08-12","r":74.9},{"d":"2025-08-14","r":61.2},{"d":"2025-08-16","r":62.6},{"d":"2025-08-17","r":59},{"d":"2025-08-19","r":49.6},{"d":"2025-08-20","r":52.2},{"d":"2025-08-21","r":49.1},{"d":"2025-08-22","r":60.8},{"d":"2025-08-23","r":59},{"d":"2025-08-25","r":46.8},{"d":"2025-08-27","r":46},{"d":"2025-08-28","r":52.3},{"d":"2025-08-29","r":49.1},{"d":"2025-08-30","r":50},{"d":"2025-09-01","r":47.8},{"d":"2025-09-03","r":57.7},{"d":"2025-09-04","r":49.6},{"d":"2025-09-05","r":56.5},{"d":"2025-09-07","r":56.8},{"d":"2025-09-09","r":62.3},{"d":"2025-09-10","r":59},{"d":"2025-09-12","r":58.6},{"d":"2025-09-14","r":53.6},{"d":"2025-09-15","r":48.2},{"d":"2025-09-17","r":49.5},{"d":"2025-09-19","r":44.6},{"d":"2025-09-20","r":43.7},{"d":"2025-09-22","r":36.1},{"d":"2025-09-23","r":36.5},{"d":"2025-09-25","r":32.9},{"d":"2025-09-26","r":38.8},{"d":"2025-09-27","r":36.5},{"d":"2025-09-28","r":41},{"d":"2025-09-30","r":35.6},{"d":"2025-10-01","r":41},{"d":"2025-10-02","r":48.7},{"d":"2025-10-04","r":42.8},{"d":"2025-10-05","r":42.4},{"d":"2025-10-06","r":45.5},{"d":"2025-10-07","r":38.3},{"d":"2025-10-08","r":43.7},{"d":"2025-10-09","r":41},{"d":"2025-10-10","r":30.2},{"d":"2025-10-11","r":26.2},{"d":"2025-10-13","r":39.5},{"d":"2025-10-16","r":34.7},{"d":"2025-10-17","r":39.7},{"d":"2025-10-19","r":45.1},{"d":"2025-10-20","r":42.8},{"d":"2025-10-22","r":40.6},{"d":"2025-10-24","r":47.7},{"d":"2025-10-25","r":46.4},{"d":"2025-10-26","r":51.3},{"d":"2025-10-27","r":50},{"d":"2025-10-29","r":41.9},{"d":"2025-10-30","r":37.7},{"d":"2025-11-01","r":37},{"d":"2025-11-02","r":35.6},{"d":"2025-11-03","r":30.2},{"d":"2025-11-04","r":30.2},{"d":"2025-11-05","r":32.9},{"d":"2025-11-06","r":30.7},{"d":"2025-11-07","r":35.6},{"d":"2025-11-08","r":34.3},{"d":"2025-11-09","r":35.6},{"d":"2025-11-10","r":38.3},{"d":"2025-11-11","r":34.7},{"d":"2025-11-12","r":34.3},{"d":"2025-11-14","r":30.7},{"d":"2025-11-16","r":30.5},{"d":"2025-11-17","r":28.4},{"d":"2025-11-18","r":33.8},{"d":"2025-11-19","r":32.9},{"d":"2025-11-21","r":28.4},{"d":"2025-11-22","r":27.5},{"d":"2025-11-23","r":29.3},{"d":"2025-11-24","r":38.3},{"d":"2025-11-25","r":43.2},{"d":"2025-11-26","r":42.8},{"d":"2025-11-27","r":44.1},{"d":"2025-11-29","r":43.5},{"d":"2025-11-30","r":37.7},{"d":"2025-12-01","r":35.2},{"d":"2025-12-03","r":50.5},{"d":"2025-12-04","r":48.2},{"d":"2025-12-05","r":42.3},{"d":"2025-12-07","r":44.6},{"d":"2025-12-09","r":47.8},{"d":"2025-12-10","r":42.8},{"d":"2025-12-11","r":44.1},{"d":"2025-12-12","r":40.6},{"d":"2025-12-13","r":40.1},{"d":"2025-12-15","r":34.5},{"d":"2025-12-16","r":33.8},{"d":"2025-12-18","r":30.2},{"d":"2025-12-19","r":34.7},{"d":"2025-12-20","r":36.3},{"d":"2025-12-21","r":36.1},{"d":"2025-12-22","r":35.2},{"d":"2025-12-23","r":33.2},{"d":"2025-12-25","r":33.4},{"d":"2025-12-26","r":39.16}],
"sm":[{"d":"2024-12-14","p":0.481},{"d":"2024-12-22","p":0.486},{"d":"2025-01-01","p":0.495},{"d":"2025-01-11","p":0.509},{"d":"2025-01-21","p":0.528},{"d":"2025-01-31","p":0.551},{"d":"2025-02-05","p":0.561},{"d":"2025-02-15","p":0.562},{"d":"2025-03-02","p":0.57},{"d":"2025-03-17","p":0.576},{"d":"2025-03-27","p":0.584},{"d":"2025-04-06","p":0.589},{"d":"2025-04-21","p":0.592},{"d":"2025-05-06","p":0.587},{"d":"2025-05-21","p":0.586},{"d":"2025-05-31","p":0.579},{"d":"2025-06-10","p":0.569},{"d":"2025-06-20","p":0.545},{"d":"2025-06-30","p":0.513},{"d":"2025-07-10","p":0.476},{"d":"2025-07-20","p":0.439},{"d":"2025-07-25","p":0.421},{"d":"2025-08-07","p":0.403},{"d":"2025-08-19","p":0.399},{"d":"2025-08-31","p":0.407},{"d":"2025-09-10","p":0.419},{"d":"2025-09-19","p":0.435},{"d":"2025-10-03","p":0.452},{"d":"2025-10-10","p":0.458},{"d":"2025-10-23","p":0.464},{"d":"2025-11-07","p":0.47},{"d":"2025-11-19","p":0.469},{"d":"2025-12-02","p":0.463},{"d":"2025-12-17","p":0.455},{"d":"2025-12-26","p":0.4493}]},
"encoding":{"x":{"field":"d","type":"temporal","title":null,"scale":{"type":"utc","domain":["2024-12-10","2026-02-12T09:36:00Z"],"range":[0,1366],"nice":false,"padding":0},"axis":{"orient":"bottom","offset":-80,"values":[1735689600000,1738368000000,1740787200000,1743465600000,1746057600000,1748736000000,1751328000000,1754006400000,1756684800000,1759276800000,1761955200000,1764547200000,1767225600000],"labelExpr":"utcmonth(datum.value)==0?utcFormat(datum.value,'%Y'):utcFormat(datum.value,'%b')","title":null,"grid":false,"domain":false,"ticks":false,"labelPadding":0,"labelBaseline":"top","labelFontSize":12.5,"labelColor":"#4a4d57","labelFontWeight":{"condition":{"test":"utcmonth(datum.value)==0","value":700},"value":400},"zindex":1,"labelOverlap":false,"labelFlush":false,"labelBound":false}}},
"resolve":{"scale":{"y":"independent"}},
"layer":[
{"encoding":{"y":{"field":"p","type":"quantitative","title":null,"axis":null,"scale":{"domain":[-0.5748,1.757],"range":[527,28],"nice":false,"zero":false}},"y2":{"field":"p2"}},
"layer":[
{"data":{"values":[{"d":"2024-12-13T07:00:00Z","d2":"2026-02-09","p":-1.318,"p2":1.757}],"format":{"parse":{"d":"date","d2":"date"}}},"mark":{"type":"rect","fill":"#ffffff","stroke":"#bdbdbd","strokeWidth":1},"encoding":{"x2":{"field":"d2"}}},
{"data":{"values":[{"d":"2025-01-01","p":-1.187,"p2":1.757},{"d":"2025-02-01","p":-1.187,"p2":1.757},{"d":"2025-03-01","p":-1.187,"p2":1.757},{"d":"2025-04-01","p":-1.187,"p2":1.757},{"d":"2025-05-01","p":-1.187,"p2":1.757},{"d":"2025-06-01","p":-1.187,"p2":1.757},{"d":"2025-07-01","p":-1.187,"p2":1.757},{"d":"2025-08-01","p":-1.187,"p2":1.757},{"d":"2025-09-01","p":-1.187,"p2":1.757},{"d":"2025-10-01","p":-1.187,"p2":1.757},{"d":"2025-11-01","p":-1.187,"p2":1.757},{"d":"2025-12-01","p":-1.187,"p2":1.757},{"d":"2026-01-01","p":-1.187,"p2":1.757}]},"mark":{"type":"rule","stroke":"#f0f3fa","strokeWidth":1}},
{"data":{"values":[{"d":"2024-12-13T07:00:00Z","d2":"2026-01-18T14:00:00Z","p":-0.4},{"d":"2024-12-13T07:00:00Z","d2":"2026-01-18T14:00:00Z","p":-0.2},{"d":"2024-12-13T07:00:00Z","d2":"2026-01-18T14:00:00Z","p":0},{"d":"2024-12-13T07:00:00Z","d2":"2026-01-18T14:00:00Z","p":0.2},{"d":"2024-12-13T07:00:00Z","d2":"2026-01-18T14:00:00Z","p":0.4},{"d":"2024-12-13T07:00:00Z","d2":"2026-01-18T14:00:00Z","p":0.6},{"d":"2024-12-13T07:00:00Z","d2":"2026-01-18T14:00:00Z","p":0.8},{"d":"2024-12-13T07:00:00Z","d2":"2026-01-18T14:00:00Z","p":1.0},{"d":"2024-12-13T07:00:00Z","d2":"2026-01-18T14:00:00Z","p":1.2},{"d":"2024-12-13T07:00:00Z","d2":"2026-01-18T14:00:00Z","p":1.4},{"d":"2024-12-13T07:00:00Z","d2":"2026-01-18T14:00:00Z","p":1.6}],"format":{"parse":{"d":"date","d2":"date"}}},"mark":{"type":"rule","stroke":"#f0f3fa","strokeWidth":1},"encoding":{"x2":{"field":"d2"},"y2":null}},
{"data":{"values":[{"d":"2024-12-13T07:00:00Z","d2":"2026-02-09","p":-0.579}],"format":{"parse":{"d":"date","d2":"date"}}},"mark":{"type":"rule","stroke":"#e0e3eb","strokeWidth":1},"encoding":{"x2":{"field":"d2"},"y2":null}}
]},
{"data":{"name":"cd"},"mark":{"type":"bar","size":2},"encoding":{"y":{"field":"v","type":"quantitative","title":null,"axis":null,"scale":{"domain":[0,1476],"range":[527,404],"nice":false}},"color":{"condition":{"test":"datum.c>=datum.o","value":"#92d4ca"},"value":"#fbaaaa"}}},
{"encoding":{"y":{"field":"r","type":"quantitative","title":null,"scale":{"domain":[20.5,90.8],"range":[658,528],"nice":false,"zero":false},"axis":{"orient":"right","offset":-69,"values":[40,60,80],"format":".2f","title":null,"grid":false,"domain":false,"ticks":false,"labelPadding":0,"labelFontSize":12.5,"labelColor":"#3f424a","zindex":1,"labelOverlap":false,"labelBound":false}}},
"layer":[
{"data":{"values":[{"d":"2024-12-13T07:00:00Z","d2":"2026-01-18T14:00:00Z","r":30,"r2":70}],"format":{"parse":{"d":"date","d2":"date"}}},"mark":{"type":"rect","fill":"#7e57c2","opacity":0.1},"encoding":{"x2":{"field":"d2"},"y2":{"field":"r2"}}},
{"data":{"values":[{"d":"2024-12-13T07:00:00Z","d2":"2026-01-18T14:00:00Z","r":40},{"d":"2024-12-13T07:00:00Z","d2":"2026-01-18T14:00:00Z","r":60},{"d":"2024-12-13T07:00:00Z","d2":"2026-01-18T14:00:00Z","r":80}],"format":{"parse":{"d":"date","d2":"date"}}},"mark":{"type":"rule","stroke":"#e9e9f3","strokeWidth":1},"encoding":{"x2":{"field":"d2"}}},
{"data":{"values":[{"d":"2024-12-13T07:00:00Z","d2":"2026-01-18T14:00:00Z","r":30},{"d":"2024-12-13T07:00:00Z","d2":"2026-01-18T14:00:00Z","r":70}],"format":{"parse":{"d":"date","d2":"date"}}},"mark":{"type":"rule","stroke":"#8a8c96","strokeWidth":1,"strokeDash":[6,5]},"encoding":{"x2":{"field":"d2"}}},
{"data":{"values":[{"d":"2024-12-13T07:00:00Z","d2":"2026-01-18T14:00:00Z","r":50}],"format":{"parse":{"d":"date","d2":"date"}}},"mark":{"type":"rule","stroke":"#bcbec6","strokeWidth":1,"strokeDash":[6,5]},"encoding":{"x2":{"field":"d2"}}},
{"data":{"name":"rs"},"mark":{"type":"line","stroke":"#7e57c2","strokeWidth":1.3,"interpolate":"linear"}},
{"data":{"values":[{"d":"2024-12-15T16:00:00Z","r":81.6,"t":"RSI (14, close, SMA, 14, 2)"},{"d":"2025-02-15","r":81.6,"t":"⌀"},{"d":"2025-02-20","r":81.6,"t":"⌀"}]},"mark":{"type":"text","align":"left","baseline":"middle","fontSize":12,"fill":"#3f424a"},"encoding":{"text":{"field":"t"}}},
{"data":{"values":[{"d":"2025-02-03","r":81.6,"t":"39.16"}]},"mark":{"type":"text","align":"left","baseline":"middle","fontSize":12,"fill":"#7e57c2"},"encoding":{"text":{"field":"t"}}}
]},
{"layer":[
{"data":{"name":"sm"},"mark":{"type":"line","stroke":"#3f6fff","strokeWidth":1.5,"opacity":0.85},"encoding":{"y":{"field":"p","type":"quantitative","title":null,"axis":null,"scale":{"domain":[-0.5748,1.757],"range":[527,28],"nice":false,"zero":false}}}},
{"data":{"name":"cd"},"mark":{"type":"rule","strokeWidth":0.9},"encoding":{"y":{"field":"h","type":"quantitative","title":null,"axis":null,"scale":{"domain":[-0.5748,1.757],"range":[527,28],"nice":false,"zero":false}},"y2":{"field":"l"},"color":{"condition":{"test":"datum.c>=datum.o","value":"#089981"},"value":"#f23645"}}},
{"data":{"name":"cd"},"mark":{"type":"bar","size":2.3},"encoding":{"y":{"field":"o","type":"quantitative","title":null,"axis":null,"scale":{"domain":[-0.5748,1.757],"range":[527,28],"nice":false,"zero":false}},"y2":{"field":"c"},"color":{"condition":{"test":"datum.c>=datum.o","value":"#089981"},"value":"#f23645"},"stroke":{"condition":{"test":"datum.c>=datum.o","value":"#089981"},"value":"#f23645"}}}
]},
{"encoding":{"y":{"field":"p","type":"quantitative","title":null,"scale":{"domain":[-0.5748,1.757],"range":[527,28],"nice":false,"zero":false},"axis":{"orient":"right","offset":-69,"values":[-0.4,-0.2,0,0.4,0.6,0.8,1.0,1.2,1.4],"format":".4f","title":null,"grid":false,"domain":false,"ticks":false,"labelPadding":0,"labelFontSize":12.5,"labelColor":"#3f424a","zindex":1,"labelOverlap":false,"labelBound":false}}},
"layer":[
{"data":{"values":[{"d":"2025-01-24","d2":"2026-01-18T14:00:00Z","p":1.3944},{"d":"2025-01-24","d2":"2026-01-18T14:00:00Z","p":1.1786},{"d":"2025-01-24","d2":"2026-01-18T14:00:00Z","p":0.8091},{"d":"2025-01-24","d2":"2026-01-18T14:00:00Z","p":0.6137},{"d":"2025-01-24","d2":"2026-01-18T14:00:00Z","p":0.2442},{"d":"2025-01-24","d2":"2026-01-18T14:00:00Z","p":-0.3208}],"format":{"parse":{"d":"date","d2":"date"}}},"mark":{"type":"rule","stroke":"#ff9c3f","strokeWidth":1.5,"opacity":0.9},"encoding":{"x2":{"field":"d2"}}},
{"data":{"values":[{"d":"2025-01-13","d2":"2025-01-26","p":0.735},{"d":"2025-07-27","d2":"2025-08-08","p":0.6916}],"format":{"parse":{"d":"date","d2":"date"}}},"mark":{"type":"rule","stroke":"#ffb74d","strokeWidth":1.5},"encoding":{"x2":{"field":"d2"}}},
{"data":{"values":[{"d":"2025-08-19","d2":"2025-10-21","p":0.86,"p2":1.028}],"format":{"parse":{"d":"date","d2":"date"}}},"mark":{"type":"rect","fill":"#c8e6c9","stroke":"#4caf50","strokeWidth":2},"encoding":{"x2":{"field":"d2"},"y2":{"field":"p2"}}},
{"data":{"values":[{"d":"2025-04-20T16:00:00Z","d2":"2025-12-03T10:00:00Z","p":0.0093,"p2":0.1355}],"format":{"parse":{"d":"date","d2":"date"}}},"mark":{"type":"rect","fill":"#ffbfc4","stroke":"#f23645","strokeWidth":2},"encoding":{"x2":{"field":"d2"},"y2":{"field":"p2"}}},
{"data":{"values":[{"d":"2025-08-29","d2":"2026-01-01","p":0.939,"p2":0.182},{"d":"2025-09-25T12:00:00Z","d2":"2026-01-01","p":0.112,"p2":0.187}],"format":{"parse":{"d":"date","d2":"date"}}},"mark":{"type":"rule","stroke":"#ffa726","strokeWidth":1.3},"encoding":{"x2":{"field":"d2"},"y2":{"field":"p2"}}},
{"data":{"values":[{"d":"2025-09-19T12:00:00Z","p":0.939,"t":"Resistance"},{"d":"2025-08-12","p":0.07,"t":"Support"}]},"mark":{"type":"text","align":"center","baseline":"middle","fontSize":14,"fill":"#2f3138"},"encoding":{"text":{"field":"t"}}},
{"data":{"values":[{"d":"2025-01-20T12:00:00Z","p":0.787,"t":"BOS"},{"d":"2025-08-02T12:00:00Z","p":0.743,"t":"BOS"}]},"mark":{"type":"text","align":"center","baseline":"middle","fontSize":14,"fill":"#ffb03b"},"encoding":{"text":{"field":"t"}}},
{"data":{"values":[{"d":"2026-01-16","p":1.449,"t":"0.236 (1.3944)"},{"d":"2026-01-16","p":1.233,"t":"0.618 (1.1786)"},{"d":"2026-01-16","p":0.864,"t":"1.272 (0.8091)"},{"d":"2026-01-16","p":0.668,"t":"1.618 (0.6137)"},{"d":"2026-01-16","p":0.297,"t":"2.272 (0.2442)"},{"d":"2026-01-16","p":-0.267,"t":"3.272 (−0.3208)"}]},"mark":{"type":"text","align":"right","baseline":"middle","fontSize":12.8,"fill":"#f7a14a"},"encoding":{"text":{"field":"t"}}},
{"data":{"values":[{"d":"2026-01-19T12:00:00Z","d2":"2026-02-05","p":0.168,"p2":0.243}],"format":{"parse":{"d":"date","d2":"date"}}},"mark":{"type":"rect","fill":"#089981","cornerRadius":2},"encoding":{"x2":{"field":"d2"},"y2":{"field":"p2"}}},
{"data":{"values":[{"d":"2026-01-27T17:00:00Z","p":0.206,"t":"0.2103"}]},"mark":{"type":"text","align":"center","baseline":"middle","fontSize":12.5,"fill":"#ffffff"},"encoding":{"text":{"field":"t"}}},
{"data":{"values":[{"d":"2026-01-21T17:00:00Z","p":1.6,"t":"1.6000"}]},"mark":{"type":"text","align":"left","baseline":"middle","fontSize":12.5,"fill":"#3f424a"},"encoding":{"text":{"field":"t"}}},
{"data":{"values":[{"d":"2026-01-20T05:00:00Z","d2":"2026-02-08","p":1.621,"p2":1.738}],"format":{"parse":{"d":"date","d2":"date"}}},"mark":{"type":"rect","fill":"#ffffff","stroke":"#eceef2","strokeWidth":1,"cornerRadius":4},"encoding":{"x2":{"field":"d2"},"y2":{"field":"p2"}}},
{"data":{"values":[{"d":"2026-01-23","p":1.682,"t":"USDT"}]},"mark":{"type":"text","align":"left","baseline":"middle","fontSize":12.5,"fill":"#2f3138"},"encoding":{"text":{"field":"t"}}},
{"data":{"values":[{"d":"2024-12-15T16:00:00Z","p":1.687,"t":"ENA / TetherUS · 1D · Binance"},{"d":"2025-02-09","p":1.687,"t":"O"},{"d":"2025-02-26T07:00:00Z","p":1.687,"t":"H"},{"d":"2025-03-15T05:00:00Z","p":1.687,"t":"L"},{"d":"2025-03-31T07:00:00Z","p":1.687,"t":"C"},{"d":"2024-12-15T16:00:00Z","p":1.607,"t":"SMA (200, close)"},{"d":"2024-12-15T16:00:00Z","p":1.528,"t":"Vol · ENA"}]},"mark":{"type":"text","align":"left","baseline":"middle","fontSize":12,"fill":"#3f424a"},"encoding":{"text":{"field":"t"}}},
{"data":{"values":[{"d":"2025-02-11T19:00:00Z","p":1.687,"t":"0.1994"},{"d":"2025-03-01T02:00:00Z","p":1.687,"t":"0.2136"},{"d":"2025-03-17T10:00:00Z","p":1.687,"t":"0.1982"},{"d":"2025-04-03T02:00:00Z","p":1.687,"t":"0.2103"},{"d":"2025-04-16T07:00:00Z","p":1.687,"t":"+0.0108 (+5.41%)"},{"d":"2025-01-03T12:00:00Z","p":1.528,"t":"35.25 M"}]},"mark":{"type":"text","align":"left","baseline":"middle","fontSize":12,"fill":"#22ab94"},"encoding":{"text":{"field":"t"}}},
{"data":{"values":[{"d":"2025-01-18","p":1.607,"t":"0.4493"}]},"mark":{"type":"text","align":"left","baseline":"middle","fontSize":12,"fill":"#2962ff"},"encoding":{"text":{"field":"t"}}},
{"data":{"values":[{"d":"2024-12-13T02:00:00Z","p":1.818,"t":"CoinCodex created with TradingView.com, Dec 26, 2025 14:58 UTC+7"}]},"mark":{"type":"text","align":"left","baseline":"middle","fontSize":12,"fill":"#c9cbd1"},"encoding":{"text":{"field":"t"}}},
{"data":{"values":[{"d":"2024-12-25T02:00:00Z","p":-1.467,"t":"TradingView"}]},"mark":{"type":"text","align":"left","baseline":"middle","fontSize":20.3,"fontWeight":600,"fill":"#ffffff"},"encoding":{"text":{"field":"t"}}},
{"data":{"values":[{"d":"2024-12-18T12:00:00Z","p":-1.463}]},"mark":{"type":"point","shape":"M-1,-.45H-.15V.45H-.55V-.05H-1ZM0,-.22a.14,.14 0 1,0 .28,0a.14,.14 0 1,0 -.28,0ZM.55,-.45H1L.6,.45H.15Z","size":1024,"filled":true,"fill":"#ffffff","strokeWidth":0,"opacity":1}},
{"data":{"values":[{"d":"2025-12-26","p":-0.52}]},"mark":{"type":"point","shape":"circle","size":314,"filled":true,"fill":"#ffffff","stroke":"#9c27b0","strokeWidth":2,"opacity":1}},
{"data":{"values":[{"d":"2025-12-26","p":-0.52}]},"mark":{"type":"point","shape":"M.1,-.6L-.45,.1H-.05L-.2,.6L.45,-.15H.05Z","size":196,"filled":true,"fill":"#9c27b0","strokeWidth":0,"opacity":1}}
]}
]}
